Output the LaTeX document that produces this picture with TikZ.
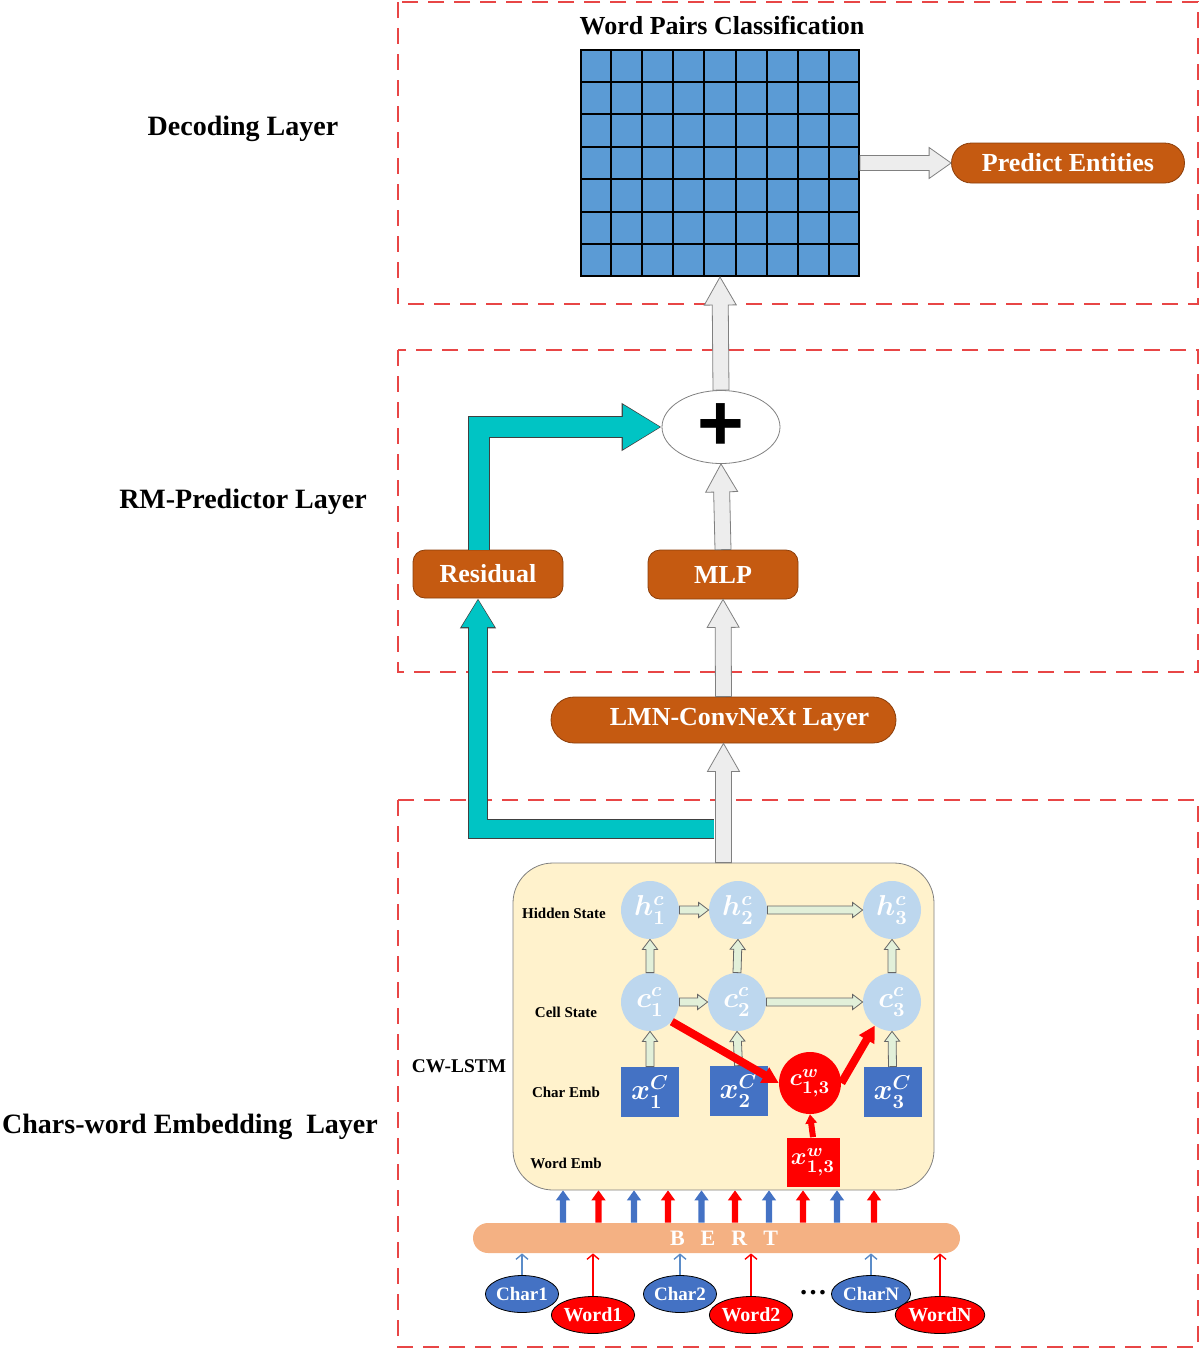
\documentclass[tikz,border=0pt]{standalone}
\usepackage{fontspec}
\setmainfont{Liberation Serif}
\setsansfont{Liberation Sans}
\usepackage{amsmath}
\usepackage{tikz}
\usetikzlibrary{shapes.geometric, arrows.meta, calc}

\definecolor{dashred}{RGB}{232,70,70}
\definecolor{rustfill}{RGB}{197,90,17}
\definecolor{rustline}{RGB}{140,62,10}
\definecolor{cellblue}{RGB}{91,155,213}
\definecolor{arrowgray}{RGB}{237,237,237}
\definecolor{smallgreen}{RGB}{226,240,217}
\definecolor{tealfill}{RGB}{0,196,196}
\definecolor{lstmfill}{RGB}{255,242,204}
\definecolor{statefill}{RGB}{189,215,238}
\definecolor{embblue}{RGB}{68,114,196}
\definecolor{bertfill}{RGB}{244,177,131}
\definecolor{inblue}{RGB}{91,140,200}

% block arrow: from, to, half shaft, half head, head length (pt)
\newcommand\blockarrow[6][]{%
  \path[#1] let \p1=(#2), \p2=(#3),
    \n1={atan2(\y2-\y1,\x2-\x1)},
    \n2={veclen(\x2-\x1,\y2-\y1)},
    \n3={\n2-#6} in
    [shift={(\p1)}, rotate=\n1]
    (0pt,{-#4*1pt}) -- ({\n3*1pt},{-#4*1pt}) -- ({\n3*1pt},{-#5*1pt})
    -- ({\n2*1pt},0pt) -- ({\n3*1pt},{#5*1pt}) -- ({\n3*1pt},{#4*1pt})
    -- (0pt,{#4*1pt}) -- cycle;}

\tikzset{
    layerbox/.style={draw=dashred, dash pattern=on 8pt off 5pt, line width=0.6pt},
    layername/.style={font=\bfseries\fontsize{14}{16}\selectfont},
    rustbox/.style={draw=rustline, fill=rustfill, text=white, inner sep=0pt,
        rounded corners=6pt, font=\bfseries\fontsize{13}{15}\selectfont},
    grayarrow/.style={draw=gray, fill=arrowgray, line width=0.4pt},
    smallarrow/.style={draw=black!60, fill=smallgreen, line width=0.4pt},
    tealout/.style={draw=black!75, line width=#1},
    tealin/.style={draw=tealfill, line width=#1},
    rowlabel/.style={font=\bfseries\fontsize{7.5}{9}\selectfont},
    state/.style={circle, fill=statefill, minimum size=29pt, inner sep=0pt,
        text=white, font=\boldmath\fontsize{14.5}{14.5}\selectfont},
    emb/.style={fill=embblue, minimum width=29pt, minimum height=25pt, inner sep=0pt,
        text=white, font=\boldmath\fontsize{14.5}{14.5}\selectfont},
    wordcell/.style={fill=red, inner sep=0pt, text=white,
        font=\boldmath\fontsize{13}{13}\selectfont},
    charell/.style={ellipse, draw=black, fill=embblue, minimum width=35.5pt,
        minimum height=18.5pt, inner sep=0pt, text=white,
        font=\bfseries\fontsize{9.5}{10}\selectfont},
    wordell/.style={ellipse, draw=black, fill=red, minimum width=41pt,
        minimum height=18.5pt, inner sep=0pt, text=white,
        font=\bfseries\fontsize{10}{11}\selectfont},
    charin/.style={draw=inblue, line width=0.7pt, -{Straight Barb[length=2.5pt,width=6pt]}},
    wordin/.style={draw=red, line width=0.7pt, -{Straight Barb[length=2.5pt,width=6pt]}},
}

\begin{document}
\begin{tikzpicture}[x=0.5pt, y=-0.5pt]
\useasboundingbox (0,0) rectangle (1200,1350);

% layers
\draw[layerbox] (398,2) rectangle (1198,304);
\draw[layerbox] (398,350) rectangle (1198,672);
\draw[layerbox] (398,800) rectangle (1198,1347);
\node[layername] (declayer) at (243,129) {Decoding Layer};
\node[layername] (rmlayer) at (243,502) {RM-Predictor Layer};
\node[layername] (cwlayer) at (190,1127) {Chars-word Embedding\ \ Layer};

% decoding
\node[font=\bfseries\fontsize{13}{15}\selectfont] (wpc) at (722,26) {Word Pairs Classification};
\node[draw=black, line width=1pt, fill=cellblue, minimum width=139pt,
    minimum height=113pt, inner sep=0pt] (grid) at (720,163) {};
\foreach \i in {1,...,8}
    \draw[line width=1pt] ($(grid.north west)!\i/9!(grid.north east)$) -- ($(grid.south west)!\i/9!(grid.south east)$);
\foreach \i in {1,...,6}
    \draw[line width=1pt] ($(grid.north west)!\i/7!(grid.south west)$) -- ($(grid.north east)!\i/7!(grid.south east)$);
\node[rustbox, minimum width=116.5pt, minimum height=20pt, rounded corners=10pt] (predict) at (1068,163) {Predict Entities};

% predictor
\node[ellipse, draw=gray, fill=white, minimum width=59pt, minimum height=36.5pt, inner sep=0pt,
    font=\sffamily\bfseries\fontsize{40}{40}\selectfont] (plus) at (721,427) {+};
\node[rustbox, minimum width=75pt, minimum height=24pt] (res) at (488,574) {Residual};
\node[rustbox, minimum width=75pt, minimum height=24.5pt] (mlp) at (723,574.5) {MLP};
\node[rustbox, minimum width=172.5pt, minimum height=23pt, rounded corners=11.5pt] (lmn) at (723.5,720) {\hspace{16pt}LMN-ConvNeXt Layer};

% cw-lstm
\node[draw=gray, fill=lstmfill, rounded corners=20pt, minimum width=210.5pt, minimum height=163.5pt] (lstm) at (723.5,1026.5) {};
\node[font=\bfseries\fontsize{9.7}{11}\selectfont] (cwlstm) at (459,1066) {CW-LSTM};
\node[rowlabel] (hlabel) at (564,913) {Hidden State};
\node[rowlabel] (clabel) at (566,1012) {Cell State};
\node[rowlabel] (xlabel) at (566,1092) {Char Emb};
\node[rowlabel] (wlabel) at (566,1163) {Word Emb};

\node[state] (h1) at (650,910) {$h^c_1$};
\node[state] (h2) at (738,910) {$h^c_2$};
\node[state] (h3) at (892,910) {$h^c_3$};
\node[state] (c1) at (650,1002) {$c^c_1$};
\node[state] (c2) at (737,1002) {$c^c_2$};
\node[state] (c3) at (892,1002) {$c^c_3$};
\node[emb] (x1) at (650,1092) {$x^C_1$};
\node[emb] (x2) at (738.5,1091) {$x^C_2$};
\node[emb] (x3) at (892.5,1092) {$x^C_3$};
\node[wordcell, circle, minimum size=31pt] (cw) at (810,1083) {$c^w_{1,3}$};
\node[wordcell, minimum width=26.5pt, minimum height=24.5pt] (xw) at (813,1162) {$x^w_{1,3}$};

\blockarrow[smallarrow]{h1.east}{h2.west}{2}{3.8}{5}
\blockarrow[smallarrow]{h2.east}{h3.west}{2}{3.8}{5}
\blockarrow[smallarrow]{c1.east}{c2.west}{2}{3.8}{5}
\blockarrow[smallarrow]{c2.east}{c3.west}{2}{3.8}{5}
\blockarrow[smallarrow]{c1.north}{h1.south}{2}{3.8}{5}
\blockarrow[smallarrow]{c2.north}{h2.south}{2}{3.8}{5}
\blockarrow[smallarrow]{c3.north}{h3.south}{2}{3.8}{5}
\blockarrow[smallarrow]{x1.north}{c1.south}{2}{3.8}{5}
\blockarrow[smallarrow]{x2.north}{c2.south}{2}{3.8}{5}
\blockarrow[smallarrow]{x3.north}{c3.south}{2}{3.8}{5}
\blockarrow[fill=red]{c1.-42}{cw.west}{2}{4.5}{8}
\blockarrow[fill=red]{cw.east}{c3.234}{2}{4.5}{8}
\blockarrow[fill=red]{xw.north}{cw.south}{1.5}{3}{4.5}

% bert
\node[fill=bertfill, rounded corners=7.5pt, minimum width=243.5pt, minimum height=15pt, inner sep=0pt,
    text=white, font=\bfseries\fontsize{11}{12}\selectfont] (bert) at (716.5,1238) {\hspace{7.5pt}B\hspace{8pt}E\hspace{8pt}R\hspace{8pt}T};
\foreach \x/\c [count=\i] in {563/embblue, 598.5/red, 634/embblue, 668/red, 701.5/embblue,
    735/red, 769/embblue, 803/red, 837/embblue, 874/red}{
    \coordinate (up\i) at (\x,1238);
    \blockarrow[fill=\c]{up\i |- bert.north}{up\i |- lstm.south}{1.6}{3.6}{5}
}

\node[charell] (ch1) at (522,1294) {Char1};
\node[wordell] (wd1) at (593,1315) {Word1};
\node[charell] (ch2) at (680,1294) {Char2};
\node[wordell] (wd2) at (751,1315) {Word2};
\node[font=\bfseries\fontsize{14}{14}\selectfont] (dots) at (813,1293) {\dots};
\node[charell] (chn) at (871,1294) {CharN};
\node[wordell] (wdn) at (940,1315) {WordN};
\draw[charin] (ch1.north) -- (ch1.north |- bert.south);
\draw[charin] (ch2.north) -- (ch2.north |- bert.south);
\draw[charin] (chn.north) -- (chn.north |- bert.south);
\draw[wordin] (wd1.north) -- (wd1.north |- bert.south);
\draw[wordin] (wd2.north) -- (wd2.north |- bert.south);
\draw[wordin] (wdn.north) -- (wdn.north |- bert.south);

% residual path
\coordinate (tealstart) at (714,829);
\draw[tealout=9.8pt, -{Triangle[length=15pt,width=17pt]}] (tealstart) -| ([xshift=-5pt]res.south);
\draw[tealin=9pt, -{Triangle[length=13.8pt,width=15.5pt]}, shorten >=0.6pt] (tealstart) -| ([xshift=-5pt]res.south);
\draw[tealout=10.8pt, -{Triangle[length=20pt,width=22.6pt]}] ([xshift=-4.5pt]res.north) |- (plus.west);
\draw[tealin=10pt, -{Triangle[length=18.8pt,width=21pt]}, shorten >=0.6pt] ([xshift=-4.5pt]res.north) |- (plus.west);

% main flow
\blockarrow[grayarrow]{lstm.north}{lmn.south}{4}{8}{14}
\blockarrow[grayarrow]{lmn.north}{mlp.south}{4}{8}{14}
\blockarrow[grayarrow]{mlp.north}{plus.south}{4}{8}{14}
\blockarrow[grayarrow]{plus.north}{grid.south}{4}{8}{14}
\blockarrow[grayarrow]{grid.east}{predict.west}{3.75}{7.75}{11}
\end{tikzpicture}
\end{document}
